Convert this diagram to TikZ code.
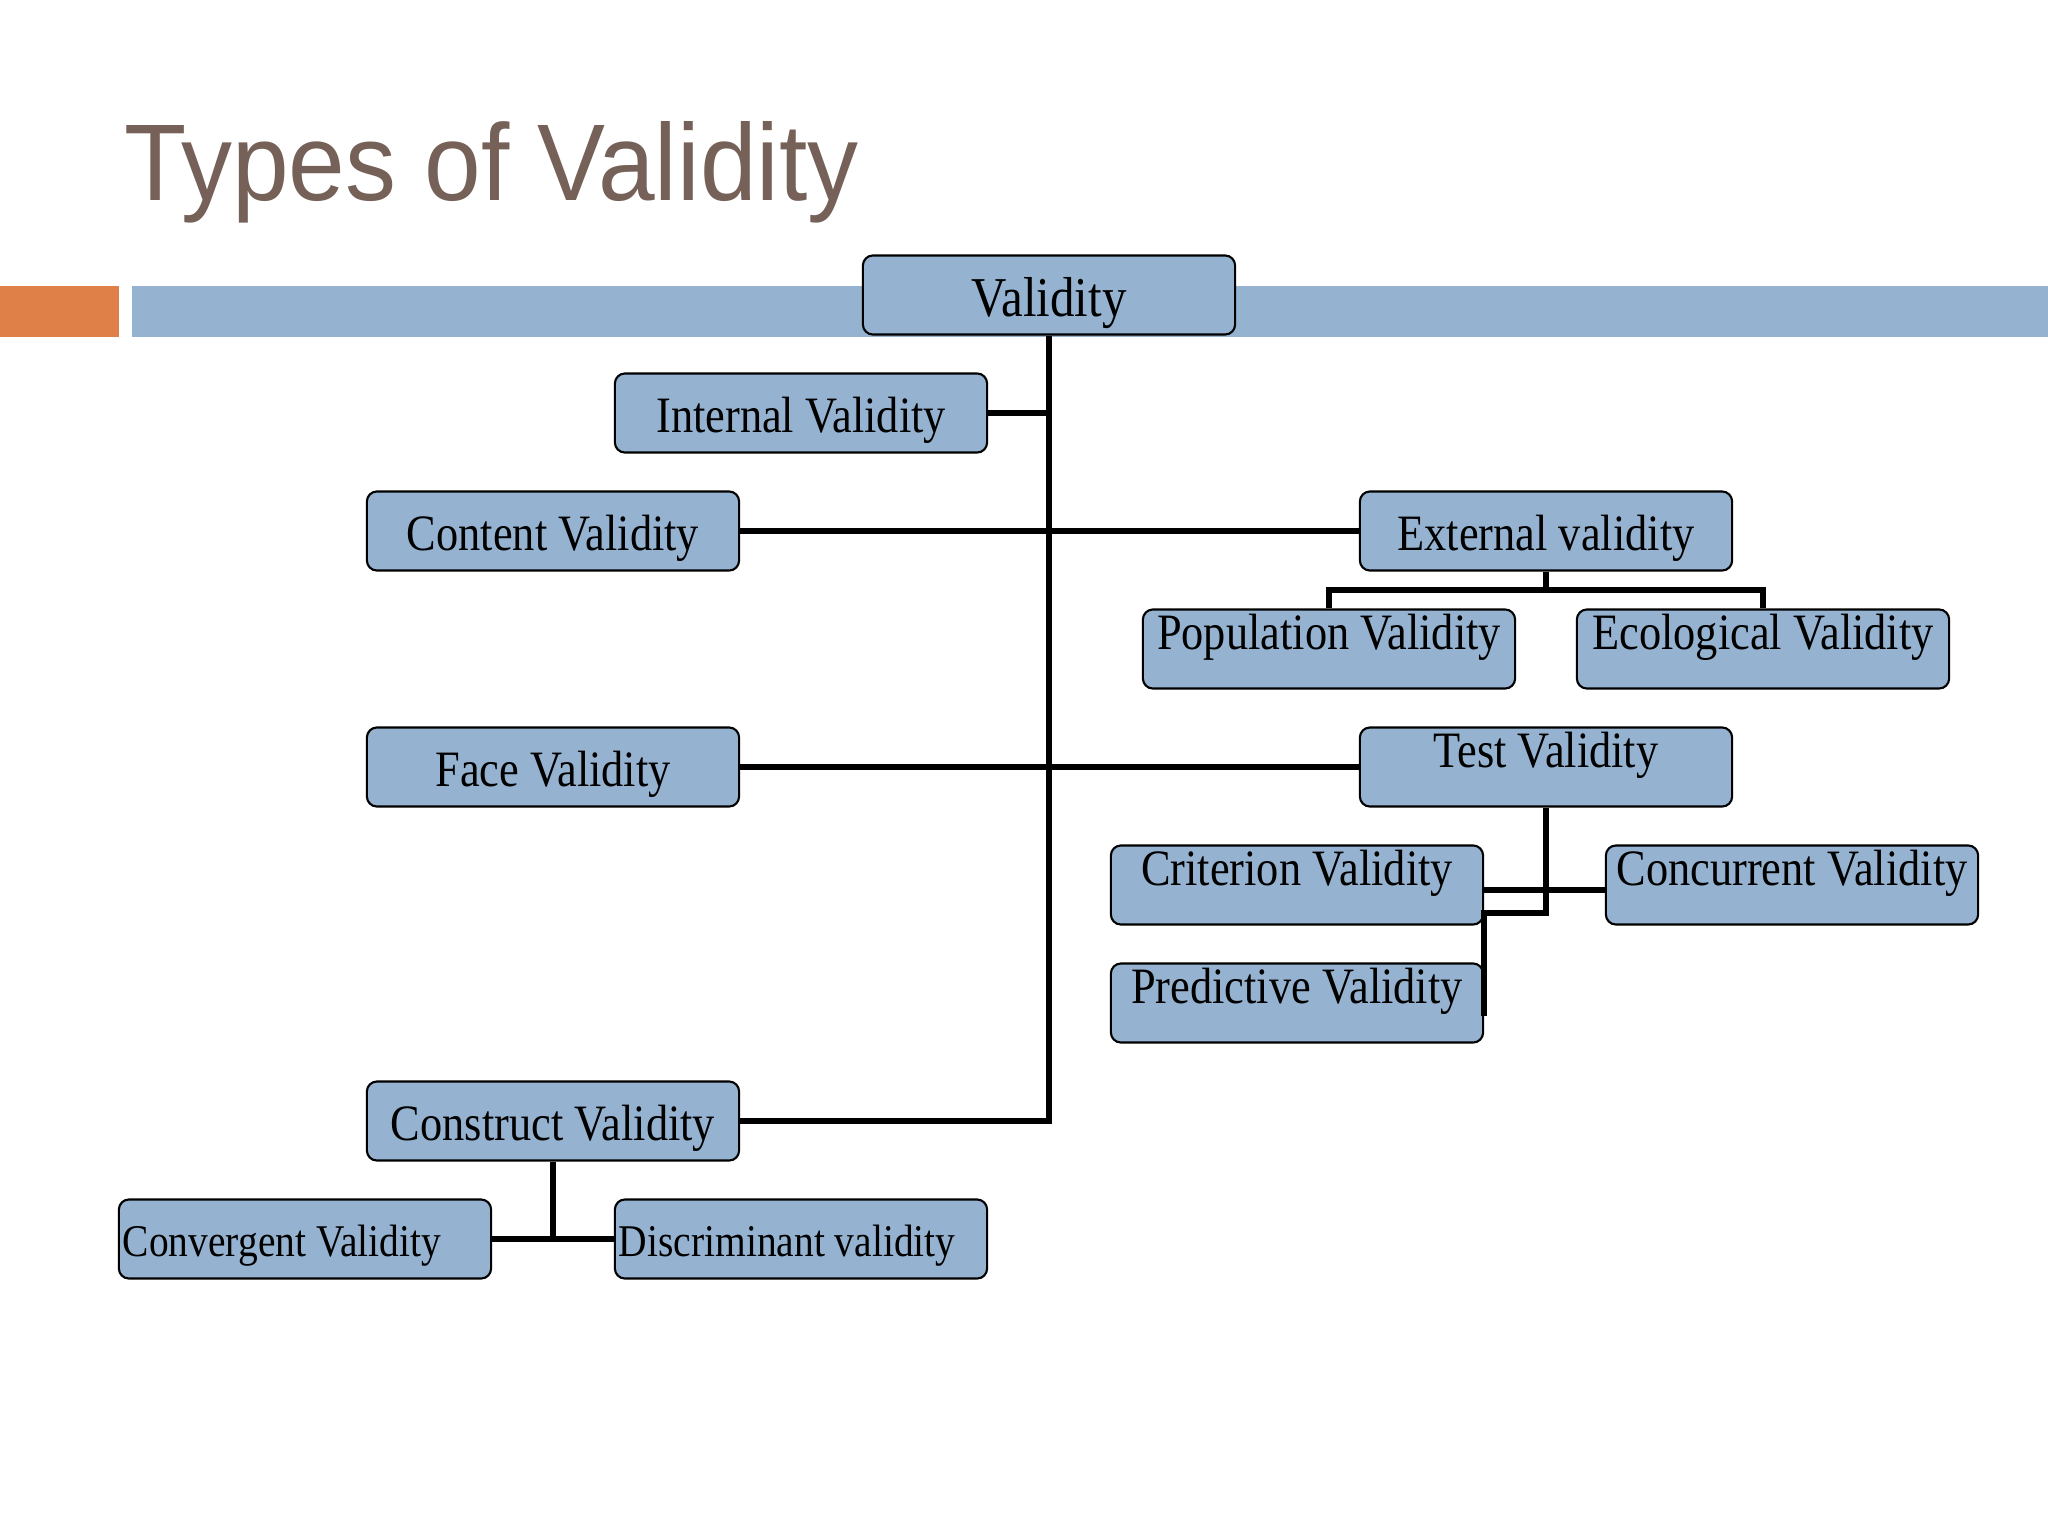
\documentclass[tikz,border=0pt]{standalone}
\usepackage{fontspec}
\usepackage{tikz}
\usetikzlibrary{calc}
\setmainfont{Liberation Serif}
\newfontfamily\boxfont[FakeStretch=0.87]{Liberation Serif}
\newfontfamily\titlefont[FakeStretch=0.934]{Liberation Sans}
\definecolor{boxblue}{RGB}{149,179,208}
\definecolor{barorange}{RGB}{222,128,71}
\definecolor{titlebrown}{RGB}{118,97,88}
\tikzset{
  vbox/.style={draw=black, line width=0.6pt, rounded corners=0.1cm, fill=boxblue,
    minimum width=3.72cm, minimum height=0.79cm, inner sep=0pt,
    font=\boxfont\fontsize{14.5}{16}\selectfont, text height=0.42cm, text depth=0.04cm},
  topbox/.style={vbox, text height=0.25cm, text depth=0.25cm},
  rootbox/.style={vbox, font=\boxfont\fontsize{16}{18}\selectfont, text height=0.46cm, text depth=0.04cm},
  subbox/.style={vbox, font=\boxfont\fontsize{12.9}{15}\selectfont, text height=0.40cm,
    text depth=0.05cm, text width=3.64cm, align=flush left},
  link/.style={line width=1.7pt},
}
\begin{document}
\begin{tikzpicture}[x=0.01cm, y=-0.01cm]
  \fill[white] (0,0) rectangle (2048,1536);
  \useasboundingbox (0,0) rectangle (2048,1536);

  \node[anchor=base west, inner sep=0pt, text=titlebrown,
    font=\titlefont\fontsize{31}{36}\selectfont] (title) at (124,200) {Types of Validity};
  \fill[barorange] (0,286) rectangle (119,337);
  \fill[boxblue] (132,286) rectangle (2048,337);

  \foreach \n/\x/\y/\s/\t in {valid/1049/295/rootbox/Validity,
      internal/801/413/vbox/Internal Validity,
      content/553/531/vbox/Content Validity,
      external/1546/531/vbox/External validity,
      population/1329/649/topbox/Population Validity,
      ecological/1763/649/topbox/Ecological Validity,
      face/553/767/vbox/Face Validity,
      test/1546/767/topbox/Test Validity,
      criterion/1297/885/topbox/Criterion Validity,
      concurrent/1792/885/topbox/Concurrent Validity,
      predictive/1297/1003/topbox/Predictive Validity,
      construct/553/1121/vbox/Construct Validity,
      convergent/305/1239/subbox/Convergent Validity,
      discriminant/801/1239/subbox/Discriminant validity} {
    \node[\s] (\n) at (\x,\y) {\t};}

  \draw[link] (valid.south) |- (construct.east);
  \draw[link] (internal.east) -- (internal.east -| valid.south);
  \draw[link] (content.east) -- (external.west);
  \draw[link] (face.east) -- (test.west);

  \coordinate (ebar) at ($(external.south)!0.5!(external.south |- population.north)$);
  \draw[link] (external.south) -- (ebar);
  \draw[link] (population.north) |- (ebar) -| (ecological.north);

  \draw[link] (test.south) |- ($(criterion.east)+(0,28)$) -- ($(predictive.east)+(0,13)$);
  \draw[link] ($(criterion.east)+(0,5)$) -- ($(concurrent.west)+(0,5)$);

  \draw[link] (construct.south) -- (construct.south |- convergent.east);
  \draw[link] (convergent.east) -- (discriminant.west);
\end{tikzpicture}
\end{document}
